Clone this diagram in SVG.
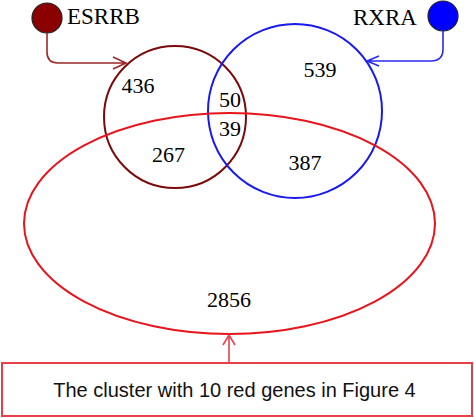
<svg xmlns="http://www.w3.org/2000/svg" width="474" height="418" viewBox="0 0 474 418">
<style>
.num{font-family:"Liberation Serif","Times New Roman",serif;font-size:22px;fill:#000;text-anchor:middle}
.lbl{font-family:"Liberation Serif","Times New Roman",serif;font-size:23px;fill:#000}
.box{font-family:"Liberation Sans",Arial,sans-serif;font-size:20px;fill:#111;text-anchor:middle}
.set{fill:none;stroke-width:2}
.conn{fill:none;stroke-width:1.6}
</style>
<rect width="474" height="418" fill="#fff"/>
<g id="set-esrrb"><circle class="set" cx="175" cy="117" r="71" stroke="#7a0a0a"/></g>
<g id="set-rxra"><circle class="set" cx="295" cy="111" r="87" stroke="#1a1aee"/></g>
<g id="set-cluster"><ellipse class="set" cx="229.5" cy="223.5" rx="205.5" ry="110.5" stroke="#e8141c"/></g>
<g id="counts">
<text class="num" x="138" y="93">436</text>
<text class="num" x="168.5" y="162">267</text>
<text class="num" x="320" y="77">539</text>
<text class="num" x="305" y="170">387</text>
<text class="num" x="230" y="107">50</text>
<text class="num" x="230" y="136">39</text>
<text class="num" x="229" y="307">2856</text>
</g>
<g id="node-esrrb">
<circle cx="47" cy="18" r="15" fill="#8b0000" stroke="#222" stroke-width="1.2"/>
<text class="lbl" x="67" y="24">ESRRB</text>
</g>
<g id="node-rxra">
<circle cx="443" cy="16" r="15" fill="#0000ff" stroke="#222" stroke-width="1.2"/>
<text class="lbl" x="353" y="25">RXRA</text>
</g>
<g id="node-box">
<rect x="2" y="363" width="470" height="53" fill="#fff" stroke="#e8404a" stroke-width="2"/>
<text class="box" x="234.5" y="397">The cluster with 10 red genes in Figure 4</text>
</g>
<g id="connectors">
<path class="conn" stroke="#9a2a2a" d="M47,33 V52 Q47,63 58,63 H125 M113,57 L126,63 L113,69"/>
<path class="conn" stroke="#2a2aee" d="M443,31 V49 Q443,61 431,61 H368 M379,56 L367,61 L379,66"/>
<path class="conn" stroke="#e8404a" d="M229,363 V335 M223,345 L229,335 L235,345"/>
</g>
</svg>
